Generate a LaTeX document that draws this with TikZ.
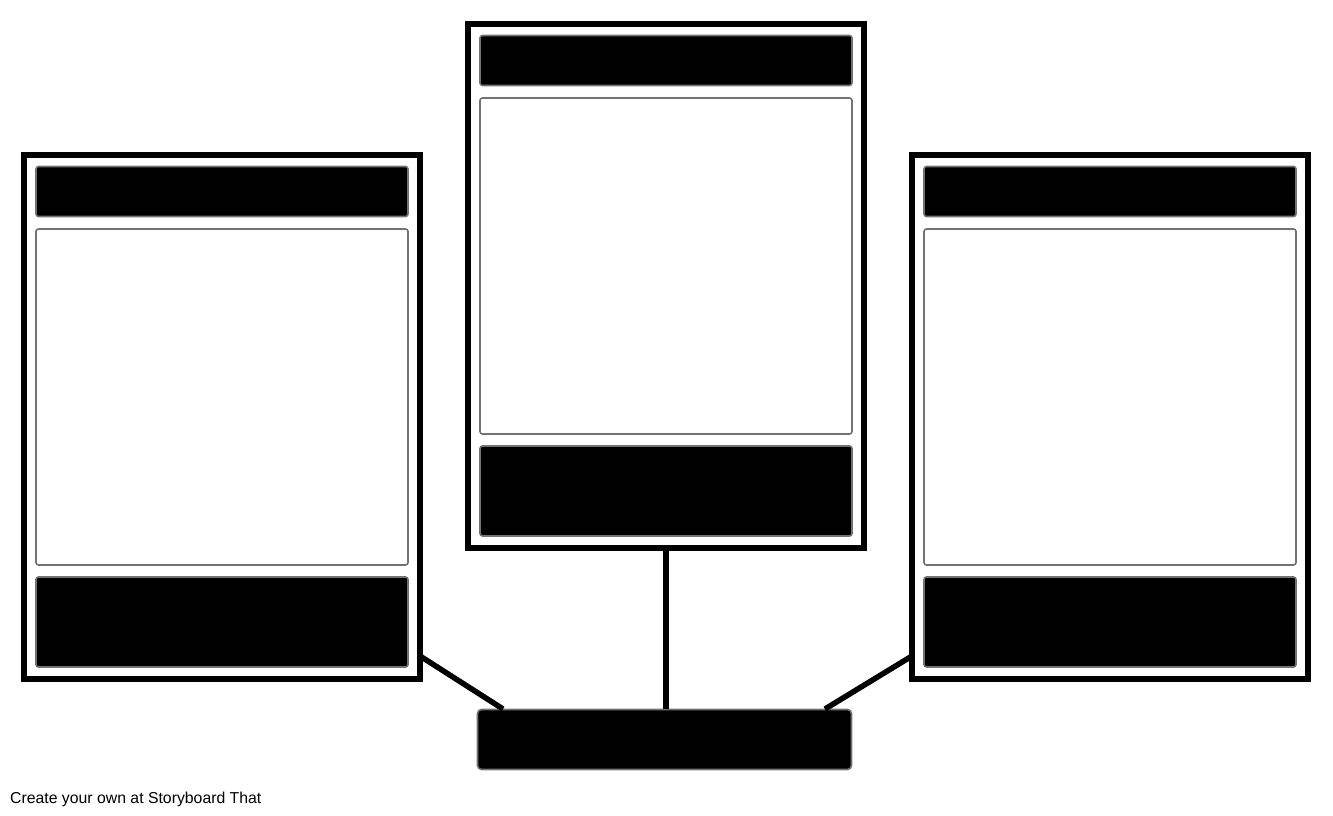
\documentclass[tikz,border=0pt]{standalone}
\usepackage{fontspec}
\setmainfont{Liberation Sans}
\begin{document}
\begin{tikzpicture}[x=1pt,y=-1pt,
  frame/.style={draw=black,line width=6pt,fill=white,inner sep=0pt,outer sep=0pt,minimum width=396pt},
  cell/.style={draw=black!55,line width=1.6pt,rounded corners=2.5pt,inner sep=0pt,outer sep=0pt,minimum width=372pt},
  blackcell/.style={cell,fill=black},
  whitecell/.style={cell,fill=white},
  conn/.style={draw=black,line width=5.5pt}]
\useasboundingbox (0,0) rectangle (1333,816);
\fill[white] (0,0) rectangle (1333,816);
% connectors
\node[blackcell,minimum width=374pt,minimum height=60pt,rounded corners=4pt] (bb) at (664.5,739.5) {};
\coordinate (la) at (420,656);
\coordinate (lb) at (503,709);
\coordinate (ra) at (912,656);
\coordinate (rb) at (825,709);
\coordinate (mb) at (666,709);
% frames
\node[frame,minimum height=524pt] (lf) at (222,417) {};
\node[frame,minimum height=524pt] (mf) at (665.5,286) {};
\node[frame,minimum height=524pt] (rf) at (1109.5,417) {};
\draw[conn] (la) -- (lb);
\draw[conn] (ra) -- (rb);
\draw[conn] (mf.south -| mb) -- (mb);
% left panel
\node[blackcell,minimum height=50pt] (lh) at (222,191.5) {};
\node[whitecell,minimum height=336pt] (lc) at (222,397) {};
\node[blackcell,minimum height=90pt] (lfo) at (222,622) {};
% middle panel
\node[blackcell,minimum height=50pt] (mh) at (666,60.5) {};
\node[whitecell,minimum height=336pt] (mc) at (666,266) {};
\node[blackcell,minimum height=90pt] (mfo) at (666,491) {};
% right panel
\node[blackcell,minimum height=50pt] (rh) at (1110,191.5) {};
\node[whitecell,minimum height=336pt] (rc) at (1110,397) {};
\node[blackcell,minimum height=90pt] (rfo) at (1110,622) {};
% footer text
\node[anchor=base west,inner sep=0pt,font=\fontsize{15.8}{18}\selectfont] (credit) at (10,803) {Create your own at Storyboard That};
\end{tikzpicture}
\end{document}
